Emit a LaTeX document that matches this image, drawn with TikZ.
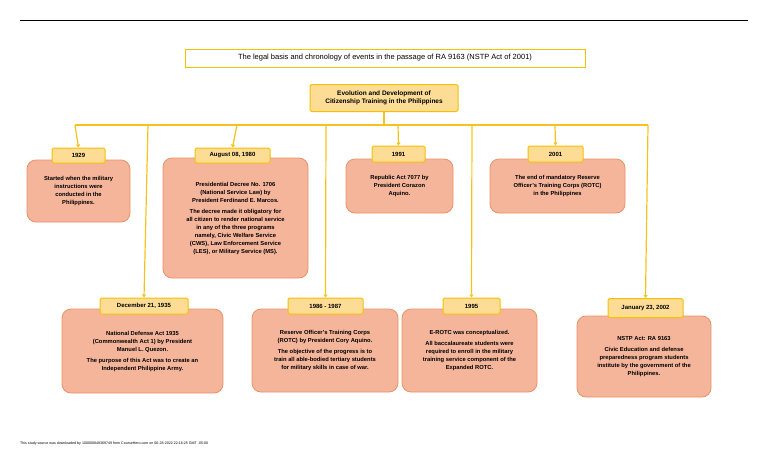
\documentclass[tikz,border=0pt]{standalone}
\usepackage{fontspec}
\setmainfont{Liberation Sans}
\usetikzlibrary{arrows.meta}
\tikzset{
	bus/.style={draw=gold, line width=1.2pt},
	drop/.style={draw=gold, line width=1.2pt, -{Triangle[width=4pt,length=3pt]}},
	tag/.style={draw=tagline, fill=tagfill, line width=1pt, rounded corners=1.5pt, inner sep=0pt, font=\fontsize{6}{7}\selectfont\bfseries},
	card/.style={draw=cardline, fill=cardfill, line width=0.8pt, rounded corners=9pt, inner sep=0pt, align=center, font=\fontsize{5.8}{8}\selectfont\bfseries}
}
\definecolor{gold}{HTML}{F6C31E}
\definecolor{tagfill}{HTML}{FDDC96}
\definecolor{tagline}{HTML}{F5C000}
\definecolor{cardfill}{HTML}{F5B59B}
\definecolor{cardline}{HTML}{E9926A}
\begin{document}
\begin{tikzpicture}[x=1pt,y=-1pt]
	\useasboundingbox (0,0) rectangle (768,461);
	\draw [black, line width=0.8pt] (20,20) -- (748,20);
	\node [draw=tagline, line width=0.8pt, minimum width=400pt, minimum height=18pt, inner sep=0pt, font=\fontsize{7.5}{9}\selectfont]
	(title) at (385,58) {The legal basis and chronology of events in the passage of RA 9163 (NSTP Act of 2001)};
	\node [tag, minimum width=148pt, minimum height=27pt, align=center, font=\fontsize{6.5}{8}\selectfont\bfseries]
	(main) at (384,98) {Evolution and Development of\\Citizenship Training in the Philippines};
	
	% bus
	\coordinate (hub) at (384,125);
	\foreach \n/\x in {1/75,2/148,3/237,4/326,5/398,6/472,7/555,8/648}
	{\coordinate (b\n) at (\x,125);}
	\draw [bus] (main) -- (hub);
	\draw [bus] (b1) -- (b8);
	
	% upper row
	\node [card, minimum width=103pt, minimum height=62pt] (c1) at (78.5,191)
	{Started when the military\\instructions were\\conducted in the\\Philippines.};
	\node [tag, minimum width=53pt, minimum height=15pt] (t1) at (78.5,155.5) {1929};
	\node [card, minimum width=145pt, minimum height=120pt] (c3) at (235.5,218)
	{Presidential Decree No. 1706\\(National Service Law) by\\President Ferdinand E. Marcos.\\[3pt]
	The decree made it obligatory for\\all citizen to render national service\\in any of the three programs\\namely, Civic Welfare Service\\(CWS), Law Enforcement Service\\(LES), or Military Service (MS).};
	\node [tag, minimum width=75pt, minimum height=15pt] (t3) at (232.5,155.5) {August 08, 1980};
	\node [card, minimum width=107pt, minimum height=54pt] (c5) at (399.5,186)
	{Republic Act 7077 by\\President Corazon\\Aquino.};
	\node [tag, minimum width=53pt, minimum height=16pt] (t5) at (398.5,154) {1991};
	\node [card, minimum width=135pt, minimum height=54pt] (c7) at (557.5,186)
	{The end of mandatory Reserve\\Officer's Training Corps (ROTC)\\in the Philippines};
	\node [tag, minimum width=55pt, minimum height=16pt] (t7) at (555.5,154) {2001};
	
	% lower row
	\node [card, minimum width=161pt, minimum height=84pt] (c2) at (142.5,351)
	{National Defense Act 1935\\(Commonwealth Act 1) by President\\Manuel L. Quezon.\\[3pt]
	The purpose of this Act was to create an\\Independent Philippine Army.};
	\node [tag, minimum width=88pt, minimum height=16pt] (t2) at (144,306) {December 21, 1935};
	\node [card, minimum width=146pt, minimum height=83pt] (c4) at (325,350.5)
	{Reserve Officer's Training Corps\\(ROTC) by President Cory Aquino.\\[3pt]
	The objective of the progress is to\\train all able-bodied tertiary students\\for military skills in case of war.};
	\node [tag, minimum width=75pt, minimum height=16pt] (t4) at (325.5,306) {1986 - 1987};
	\node [card, minimum width=135pt, minimum height=83pt] (c6) at (469.5,350.5)
	{E-ROTC was conceptualized.\\[3pt]
	All baccalaureate students were\\required to enroll in the military\\training service component of the\\Expanded ROTC.};
	\node [tag, minimum width=57pt, minimum height=16pt] (t6) at (471.5,306) {1995};
	\node [card, minimum width=134pt, minimum height=81pt] (c8) at (644,356.5)
	{NSTP Act: RA 9163\\[3pt]
	Civic Education and defense\\preparedness program students\\institute by the government of the\\Philippines.};
	\node [tag, minimum width=75pt, minimum height=19pt] (t8) at (645.5,308) {January 23, 2002};
	
	% drops
	\foreach \n in {1,...,8}
	{\draw [drop] (b\n) -- (t\n.north);}
	
	\node [anchor=west, inner sep=0pt, font=\fontsize{3.6}{4}\selectfont] (foot) at (20,444)
	{This study source was downloaded by 100000849369749 from CourseHero.com on 06-28-2022 22:16:25 GMT -05:00};
\end{tikzpicture}
\end{document}
